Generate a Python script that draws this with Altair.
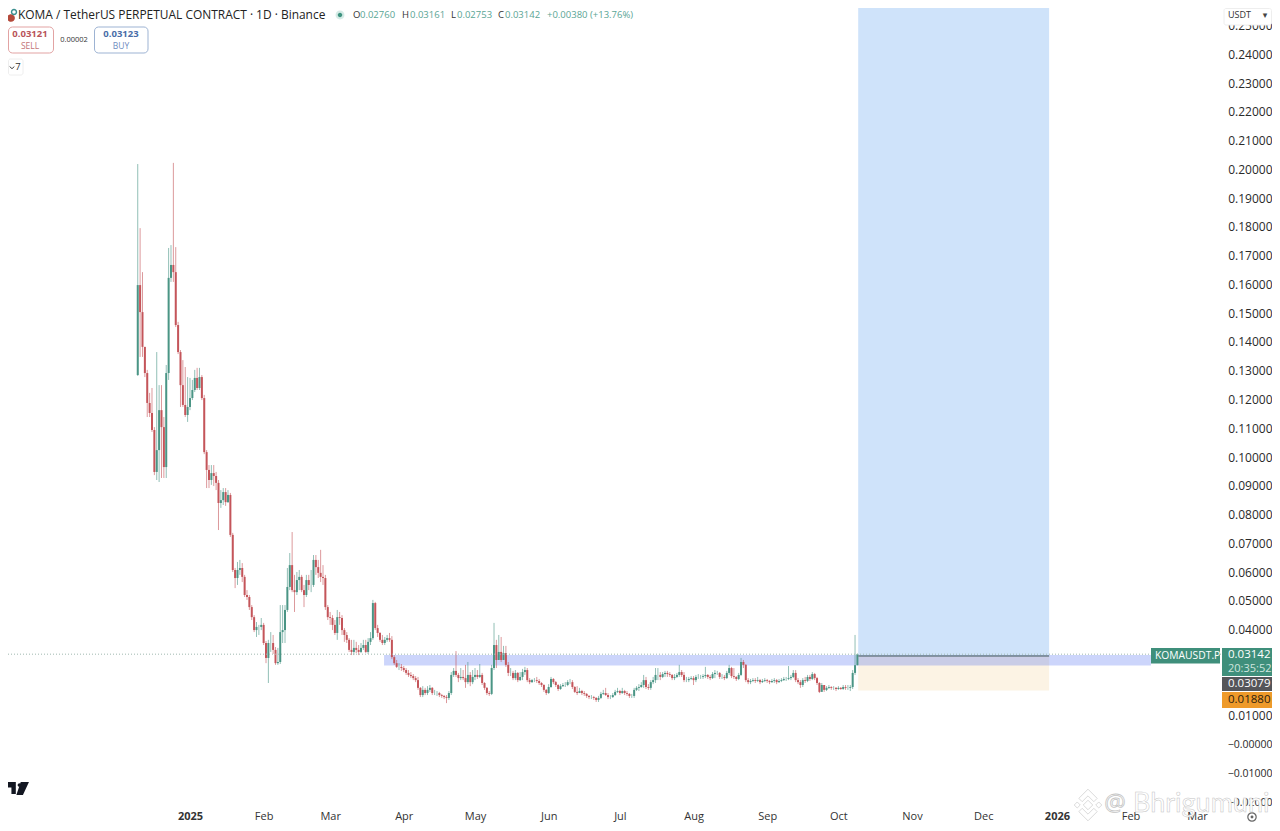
import altair as alt
import pandas as pd

# Daily candles from 2024-12-10
first_day = "2024-12-10"
first_open = 0.1285
closes = [
 .1598,.1504,.1383,.1292,.1188,.1153,.1094,.0948,.1024,.1163,
 .1104,.0965,.1292,.1623,.1668,.1643,.1459,.1365,.1250,.1181,
 .1146,.1174,.1205,.1233,.1275,.1240,.1278,.1205,.1017,.0955,
 .0920,.0944,.0934,.0910,.0840,.0850,.0878,.0843,.0868,.0729,
 .0607,.0579,.0607,.0614,.0583,.0520,.0513,.0478,.0443,.0398,
 .0409,.0409,.0416,.0353,.0301,.0353,.0353,.0329,.0283,.0287,
 .0391,.0398,.0468,.0548,.0624,.0537,.0530,.0572,.0583,.0537,
 .0520,.0572,.0555,.0555,.0642,.0617,.0597,.0583,.0579,.0478,
 .0443,.0440,.0416,.0388,.0443,.0440,.0398,.0381,.0364,.0329,
 .0322,.0336,.0329,.0322,.0336,.0346,.0322,.0357,.0370,.0492,
 .0405,.0388,.0364,.0353,.0364,.0370,.0364,.0304,.0283,.0270,
 .0270,.0266,.0259,.0249,.0242,.0238,.0231,.0224,.0197,.0172,
 .0190,.0179,.0190,.0197,.0179,.0179,.0179,.0172,.0169,.0165,
 .0162,.0179,.0242,.0256,.0242,.0231,.0235,.0231,.0217,.0242,
 .0217,.0235,.0242,.0235,.0242,.0214,.0197,.0179,.0176,.0266,
 .0346,.0294,.0322,.0294,.0318,.0277,.0249,.0249,.0231,.0249,
 .0224,.0235,.0252,.0259,.0224,.0217,.0224,.0224,.0221,.0214,
 .0207,.0190,.0179,.0200,.0228,.0217,.0207,.0193,.0203,.0207,
 .0207,.0217,.0217,.0200,.0183,.0179,.0186,.0179,.0176,.0169,
 .0165,.0165,.0162,.0155,.0162,.0176,.0179,.0172,.0165,.0165,
 .0172,.0183,.0186,.0179,.0186,.0179,.0176,.0169,.0169,.0190,
 .0197,.0200,.0207,.0224,.0200,.0197,.0217,.0224,.0242,.0242,
 .0235,.0245,.0249,.0245,.0242,.0231,.0235,.0242,.0252,.0242,
 .0224,.0224,.0228,.0231,.0224,.0235,.0235,.0235,.0238,.0242,
 .0235,.0231,.0245,.0249,.0249,.0235,.0235,.0231,.0249,.0266,
 .0238,.0235,.0228,.0242,.0287,.0277,.0224,.0217,.0221,.0224,
 .0221,.0224,.0217,.0221,.0224,.0221,.0217,.0221,.0224,.0217,
 .0221,.0224,.0228,.0228,.0231,.0235,.0249,.0224,.0217,.0207,
 .0224,.0221,.0235,.0228,.0245,.0231,.0214,.0183,.0207,.0190,
 .0197,.0200,.0197,.0197,.0193,.0197,.0193,.0200,.0197,.0197,
 .0200,.0249,.0276,.03142]
highs = [
 .2019,.1796,.1643,.1383,.1303,.1223,.1240,.1104,.1365,.1250,
 .1250,.1139,.1320,.1727,.1737,.2023,.1730,.1470,.1372,.1337,
 .1313,.1278,.1275,.1268,.1303,.1310,.1310,.1285,.1216,.1024,
 .0972,.0972,.0972,.0948,.0920,.0885,.0892,.0892,.0885,.0875,
 .0736,.0614,.0635,.0642,.0631,.0590,.0537,.0520,.0485,.0450,
 .0426,.0416,.0440,.0423,.0360,.0364,.0391,.0381,.0339,.0336,
 .0485,.0485,.0485,.0614,.0666,.0739,.0590,.0600,.0607,.0590,
 .0555,.0590,.0590,.0607,.0659,.0659,.0642,.0677,.0624,.0590,
 .0485,.0461,.0450,.0433,.0468,.0461,.0450,.0405,.0391,.0370,
 .0364,.0364,.0357,.0346,.0353,.0364,.0364,.0370,.0391,.0503,
 .0496,.0416,.0391,.0381,.0374,.0381,.0388,.0377,.0311,.0294,
 .0283,.0280,.0273,.0266,.0259,.0252,.0245,.0238,.0235,.0200,
 .0203,.0197,.0203,.0207,.0200,.0190,.0186,.0183,.0176,.0172,
 .0172,.0186,.0252,.0266,.0325,.0249,.0266,.0259,.0277,.0287,
 .0252,.0259,.0266,.0259,.0280,.0249,.0217,.0200,.0186,.0277,
 .0423,.0364,.0381,.0374,.0343,.0343,.0287,.0266,.0256,.0259,
 .0252,.0252,.0263,.0270,.0266,.0231,.0228,.0231,.0235,.0228,
 .0217,.0210,.0193,.0210,.0235,.0231,.0221,.0210,.0210,.0214,
 .0217,.0224,.0228,.0224,.0203,.0203,.0197,.0190,.0186,.0179,
 .0172,.0172,.0169,.0165,.0169,.0183,.0190,.0197,.0179,.0172,
 .0179,.0190,.0197,.0190,.0197,.0190,.0186,.0179,.0176,.0197,
 .0203,.0210,.0217,.0242,.0235,.0210,.0224,.0235,.0266,.0266,
 .0252,.0252,.0256,.0256,.0252,.0245,.0245,.0249,.0277,.0259,
 .0252,.0235,.0235,.0238,.0238,.0242,.0245,.0242,.0245,.0270,
 .0245,.0242,.0252,.0259,.0256,.0252,.0245,.0242,.0256,.0277,
 .0270,.0266,.0238,.0249,.0301,.0294,.0280,.0231,.0228,.0231,
 .0231,.0235,.0228,.0228,.0231,.0228,.0224,.0228,.0231,.0228,
 .0228,.0231,.0235,.0235,.0273,.0242,.0259,.0259,.0231,.0224,
 .0231,.0235,.0242,.0242,.0252,.0249,.0235,.0217,.0214,.0203,
 .0203,.0207,.0203,.0203,.0200,.0203,.0200,.0207,.0207,.0207,
 .0207,.0259,.0381,.03161]
lows = [
 .1282,.1348,.1348,.1278,.1139,.1139,.1087,.0937,.0920,.0913,
 .0927,.0927,.0927,.1268,.1609,.1609,.1452,.1358,.1174,.1174,
 .1139,.1122,.1163,.1198,.1226,.1233,.1233,.1198,.1010,.0892,
 .0892,.0903,.0899,.0885,.0746,.0823,.0833,.0830,.0840,.0722,
 .0600,.0544,.0555,.0590,.0565,.0513,.0503,.0468,.0433,.0391,
 .0374,.0381,.0398,.0346,.0283,.0214,.0322,.0315,.0277,.0277,
 .0280,.0353,.0353,.0461,.0537,.0530,.0461,.0520,.0537,.0530,
 .0478,.0513,.0537,.0530,.0548,.0590,.0579,.0565,.0555,.0468,
 .0433,.0416,.0398,.0381,.0364,.0416,.0381,.0357,.0353,.0322,
 .0311,.0311,.0318,.0311,.0318,.0329,.0318,.0315,.0346,.0364,
 .0398,.0374,.0357,.0346,.0346,.0357,.0357,.0297,.0277,.0266,
 .0259,.0256,.0252,.0242,.0235,.0231,.0224,.0217,.0190,.0165,
 .0165,.0172,.0172,.0183,.0172,.0172,.0169,.0165,.0162,.0158,
 .0144,.0155,.0172,.0235,.0235,.0217,.0224,.0224,.0197,.0210,
 .0203,.0210,.0224,.0228,.0231,.0207,.0190,.0172,.0169,.0172,
 .0259,.0266,.0304,.0287,.0294,.0270,.0238,.0238,.0224,.0224,
 .0217,.0221,.0224,.0242,.0217,.0210,.0214,.0217,.0214,.0207,
 .0200,.0183,.0172,.0176,.0197,.0210,.0200,.0186,.0190,.0200,
 .0200,.0203,.0210,.0193,.0179,.0172,.0179,.0172,.0169,.0162,
 .0158,.0158,.0155,.0148,.0148,.0158,.0172,.0169,.0158,.0158,
 .0162,.0169,.0179,.0172,.0176,.0172,.0169,.0162,.0162,.0162,
 .0186,.0186,.0197,.0197,.0193,.0190,.0190,.0210,.0214,.0224,
 .0224,.0231,.0235,.0235,.0235,.0224,.0224,.0231,.0235,.0235,
 .0217,.0217,.0217,.0224,.0207,.0217,.0228,.0228,.0228,.0231,
 .0228,.0224,.0228,.0231,.0242,.0228,.0228,.0224,.0228,.0242,
 .0231,.0228,.0221,.0224,.0238,.0266,.0217,.0210,.0210,.0217,
 .0214,.0217,.0210,.0214,.0217,.0214,.0210,.0214,.0214,.0210,
 .0214,.0217,.0221,.0221,.0224,.0224,.0231,.0217,.0210,.0197,
 .0200,.0214,.0217,.0221,.0224,.0224,.0207,.0179,.0190,.0183,
 .0186,.0193,.0190,.0190,.0186,.0190,.0190,.0190,.0190,.0190,
 .0186,.0193,.0242,.02753]

# Reference ticks that sit behind the price tags (0.03, 0.02) are left to the tags;
# 0.25 and -0.02 are the half-hidden ones at the two ends of the scale.
price_ticks = [.25,.24,.23,.22,.21,.20,.19,.18,.17,.16,.15,.14,.13,.12,.11,.10,.09,.08,.07,.06,.05,.04,.01,0,-.01,-.02]
time_ticks = ["2025-01-01","2025-02-01","2025-03-01","2025-04-01","2025-05-01","2025-06-01","2025-07-01",
              "2025-08-01","2025-09-01","2025-10-01","2025-11-01","2025-12-01","2026-01-01","2026-02-01","2026-03-01"]

last_price = 0.03142
entry_price = 0.03079
stop_price = 0.01880
band_low, band_high = 0.0275, 0.0311
position_start, position_end = "2025-10-09T08:00:00Z", "2025-12-28T17:00:00Z"
band_start, band_end = "2025-03-23T17:00:00Z", "2026-02-09T14:00:00Z"

X_MIN, X_MAX = "2024-10-16T09:00:00Z", "2026-03-11T12:00:00Z"
Y_MIN, Y_MAX = -0.02104, 0.25617

GREEN, RED = "#4a9585", "#c4555a"
FONT = "Open Sans"

def ms(s):
    return int(pd.Timestamp(s, tz="UTC").value // 1_000_000) if "Z" not in s else int(pd.Timestamp(s).value // 1_000_000)

dates = pd.date_range(first_day, periods=len(closes), freq="D").strftime("%Y-%m-%d")
opens = [first_open] + closes[:-1]
opens[-1] = 0.02760
candles = pd.DataFrame({"date": dates, "open": opens, "high": highs, "low": lows, "close": closes})
candles["dir"] = ["up" if c >= o else "down" for o, c in zip(opens, closes)]

x_scale = alt.Scale(type="utc", domain=[ms(X_MIN), ms(X_MAX)], nice=False, padding=0)
y_scale = alt.Scale(domain=[Y_MIN, Y_MAX], nice=False, zero=False)
dir_scale = alt.Scale(domain=["up", "down"], range=[GREEN, RED])

x_axis = alt.Axis(
    title=None, grid=False, ticks=False, domain=False, values=[ms(t) for t in time_ticks],
    labelExpr="utcmonth(datum.value)==0 ? utcFormat(datum.value,'%Y') : utcFormat(datum.value,'%b')",
    labelFontWeight=alt.expr("utcmonth(datum.value)==0 ? 'bold' : 'normal'"),
    labelFont=FONT, labelFontSize=11, labelColor="#333333", labelPadding=5, labelOverlap=False, labelFlush=False,
)
y_axis = alt.Axis(
    title=None, orient="right", grid=False, ticks=False, domain=False, values=price_ticks,
    labelExpr="datum.value < 0.000001 ? '\u2212' + format(abs(datum.value),'.5f') : format(datum.value,'.5f')",
    labelFont=FONT, labelFontSize=alt.expr("datum.value < 0.000001 ? 10.5 : 12"), labelColor="#2a2a2a",
    labelAlign="right", labelPadding=50, labelOverlap=False, labelFlush=False,
)

def X(f):
    return alt.X(f, scale=x_scale, axis=x_axis)

def Y(f):
    return alt.Y(f, scale=y_scale, axis=y_axis)

one = alt.Data(values=[{"k": 0}])

def sx(p):
    return alt.value(p - 8)

def sy(p):
    return alt.value(p - 8)

def label(t, x, y, size=10, color="#333333", align="left", weight="normal", font=FONT, **kw):
    return alt.Chart(one).mark_text(text=t, fontSize=size, color=color, align=align, baseline="middle",
                                    fontWeight=weight, font=font, **kw).encode(x=sx(x), y=sy(y))

def box(x1, x2, y1, y2, fill="white", stroke=None, r=0):
    kw = {"stroke": stroke, "strokeWidth": 1} if stroke else {}
    return alt.Chart(one).mark_rect(fill=fill, cornerRadius=r, opacity=1, **kw).encode(
        x=sx(x1), x2=sx(x2), y=sy(y1), y2=sy(y2))

def shape(path, x, y, size, fill=None, stroke=None, sw=1):
    kw = {}
    kw["filled"] = fill is not None
    if fill: kw["fill"] = fill
    if stroke:
        kw["stroke"] = stroke
        kw["strokeWidth"] = sw
    return alt.Chart(one).mark_point(shape=path, size=size, opacity=1, **kw).encode(x=sx(x), y=sy(y))

def zone(x1, x2, y1, y2, color, opacity=1):
    d = pd.DataFrame({"a": [ms(x1)], "b": [ms(x2)], "c": [y1], "d": [y2]})
    return alt.Chart(d).mark_rect(color=color, opacity=opacity, clip=True).encode(
        x=X("a:T"), x2="b:T", y=Y("c:Q"), y2="d:Q")

wicks = alt.Chart(candles).mark_rule(strokeWidth=1, opacity=0.6).encode(
    x=X("date:T"), y=Y("low:Q"), y2="high:Q",
    color=alt.Color("dir:N", scale=dir_scale, legend=None))
bodies = alt.Chart(candles).mark_bar(size=2).encode(
    x=X("date:T"), y=Y("open:Q"), y2="close:Q",
    color=alt.Color("dir:N", scale=dir_scale, legend=None))

last_rule = alt.Chart(pd.DataFrame({"p": [last_price]})).mark_rule(
    color="#9fb8b0", strokeWidth=1, strokeDash=[1, 2]).encode(
    y=Y("p:Q"), x=alt.value(0), x2=alt.value(1214))
entry_rule = alt.Chart(pd.DataFrame({"p": [entry_price], "a": [ms(position_start)], "b": [ms(position_end)]})).mark_rule(
    color="#6f8088", strokeWidth=1.5).encode(
    y=Y("p:Q"), x=X("a:T"), x2="b:T")

CIRCLE = "M-1,0a1,1 0 1,0 2,0a1,1 0 1,0 -2,0Z"

layers = [
    zone(position_start, position_end, entry_price, Y_MAX, "#cfe3fa"),
    zone(position_start, position_end, stop_price, entry_price, "#fcf3e4"),
    zone(band_start, band_end, band_low, band_high, "#2b4ff0", 0.24),
    wicks, bodies, last_rule, entry_rule,
    # header
    shape(CIRCLE, 11, 18, 60, fill="#b4493a"),
    shape(CIRCLE, 14, 12, 24, stroke="#3b8f8f", sw=1.5),
    label("KOMA / TetherUS PERPETUAL CONTRACT \u00b7 1D \u00b7 Binance", 18, 15, size=11.95, color="#222222"),
    shape(CIRCLE, 340, 15, 80, fill="#d5ebe6"),
    shape(CIRCLE, 340, 15, 20, fill="#3f9380"),
    label("O", 353, 15, size=9.5), label("0.02760", 360, 15, size=9.5, color="#5aa595"),
    label("H", 402, 15, size=9.5), label("0.03161", 410, 15, size=9.5, color="#5aa595"),
    label("L", 451, 15, size=9.5), label("0.02753", 457, 15, size=9.5, color="#5aa595"),
    label("C", 498, 15, size=9.5), label("0.03142", 505, 15, size=9.5, color="#5aa595"),
    label("+0.00380 (+13.76%)", 547, 15, size=9.5, color="#5aa595"),
    box(8.5, 53.5, 27, 53, stroke="#e2a3a3", r=4),
    label("0.03121", 30, 34, size=9.5, color="#b9545a", align="center", weight="bold"),
    label("SELL", 30, 46, size=8.5, color="#c27478", align="center"),
    label("0.00002", 74, 40, size=7.5, color="#333333", align="center"),
    box(94.5, 148, 27, 53, stroke="#9db3d3", r=4),
    label("0.03123", 121, 34, size=9.5, color="#4a6da8", align="center", weight="bold"),
    label("BUY", 121, 46, size=8.5, color="#6f8cc0", align="center"),
    box(8.5, 23, 59, 75, stroke="#eeeeee", r=2),
    shape("M-1,-0.4L0,0.5L1,-0.4", 12, 67.5, 22, stroke="#444444", sw=1),
    label("7", 18, 67, size=9.5, color="#333333", align="center"),
    # price-axis chrome
    box(1224, 1271.5, 8.5, 25, stroke="#eeeeee", r=2),
    label("USDT", 1228, 15, size=9, color="#333333"),
    label("\u25be", 1265, 15, size=9, color="#444444", align="center", font="DejaVu Sans"),
    box(1151, 1220, 648, 663.5, fill="#3f8f7b"),
    label("KOMAUSDT.P", 1155, 656, size=10.3, color="white"),
    box(1222, 1272, 648, 676, fill="#3f8f7b"),
    label("0.03142", 1228, 655, size=11.5, color="white"),
    label("20:35:52", 1228, 668.5, size=11, color="#cfe6df"),
    box(1222, 1272, 677, 691, fill="#55565a"),
    label("0.03079", 1228, 684, size=11.5, color="white"),
    box(1222, 1272, 692, 708, fill="#ee9a2a"),
    label("0.01880", 1228, 700, size=11.5, color="#2a2010"),
    # TradingView logo
    shape("M-1,-0.55H-0.2V0.55H-0.6V-0.05H-1ZM0.25,-0.55H1L0.45,0.65H-0.15Z", 18, 788, 480, fill="#131722"),
    shape(CIRCLE, 19.5, 785, 14, fill="#131722"),
    # settings icon
    shape(CIRCLE, 1252, 817, 70, stroke="#666666", sw=1.2),
    shape(CIRCLE, 1252, 817, 8, fill="#666666"),
    # watermark
    shape("M0,-.3L.3,0L0,.3L-.3,0ZM-.68,-.19L-.49,0L-.68,.19L-.87,0ZM.68,-.19L.87,0L.68,.19L.49,0Z"
          "M0,-1L.58,-.42L.37,-.21L0,-.58L-.37,-.21L-.58,-.42ZM0,1L.58,.42L.37,.21L0,.58L-.37,.21L-.58,.42Z",
          1088, 805, 1000, fill="white", stroke="#d0d0d0", sw=0.8),
    label("@", 1115, 804, size=24, color="white", align="center", stroke="#c4c4c4", strokeWidth=0.8),
    label("Bhrigumuni", 1133, 804, size=27, color="white", stroke="#c4c4c4", strokeWidth=0.5, font="Lato"),
]

chart = alt.layer(*layers).properties(
    width=1214, height=797, background="white",
    padding={"left": 0, "top": 0, "right": 50, "bottom": 18},
    autosize=alt.AutoSizeParams(type="none"),
).configure_view(stroke=None)

chart.save("out.html", embed_options={"renderer": "svg", "actions": False})
